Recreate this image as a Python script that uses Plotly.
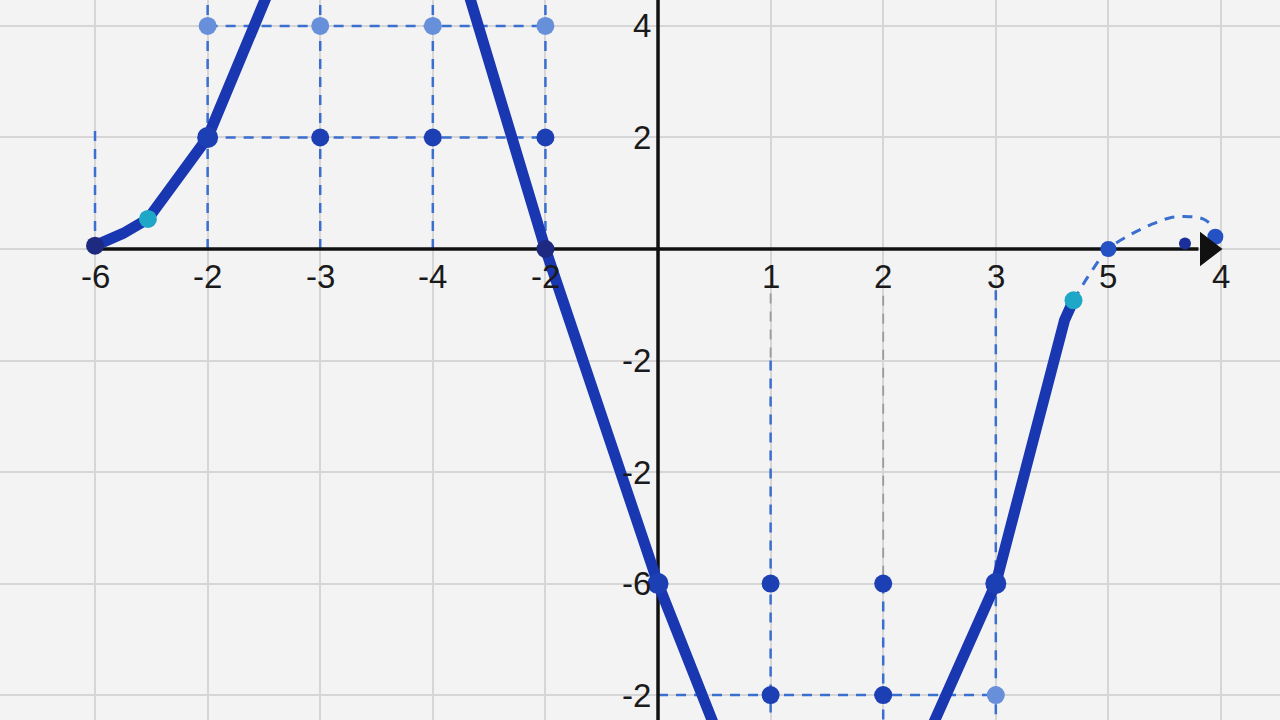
import plotly.graph_objects as go

# ---- data ----
curve_x = [-5.0, -4.75, -4.53, -4.0, -2.43, -1.0, 0.0, 1.41, 3.0, 3.61, 3.69]
curve_y = [0.03, 0.14, 0.27, 1.0, 4.8, 0.0, -3.0, -6.6, -3.0, -0.64, -0.46]

tail_x = [3.69, 3.85, 4.0, 4.19, 4.37, 4.55, 4.72, 4.84, 4.92]
tail_y = [-0.46, -0.2, 0.0, 0.126, 0.215, 0.28, 0.29, 0.27, 0.215]

upper_light_x = [-4, -3, -2, -1]
upper_light_y = [2, 2, 2, 2]
upper_dark_x = [-4, -3, -2, -1]
upper_dark_y = [1, 1, 1, 1]
lower_dark_x = [1, 2, 1, 2]
lower_dark_y = [-3, -3, -4, -4]
lower_light_x = [3]
lower_light_y = [-4]

curve_dot_x = [-4.0, 0.0, 3.0]
curve_dot_y = [1.0, -3.0, -3.0]
navy_dot_x = [-5.0, -1.0]
navy_dot_y = [0.03, 0.0]
teal_dot_x = [-4.53, 3.69]
teal_dot_y = [0.27, -0.46]
axis_dot_x = [4.0, 4.95]
axis_dot_y = [0.0, 0.11]
small_dot_x = [4.68]
small_dot_y = [0.05]

# guide segments (x0, y0, x1, y1)
blue_guides = [
    (-5, 0, -5, 1.07),
    (-4, 0, -4, 2.3), (-3, 0, -3, 2.3), (-2, 0, -2, 2.3), (-1, 0, -1, 2.3),
    (-4, 2, -1, 2), (-4, 1, -1, 1),
    (0, -4, 3, -4),
    (1, -1.0, 1, -4.3), (2, -3.0, 2, -4.3), (3, -0.37, 3, -4.3),
]
gray_guides = [
    (1, -0.4, 1, -1.0), (2, -0.42, 2, -3.0),
]

x_tick_vals = [-5, -4, -3, -2, -1, 1, 2, 3, 4, 5]
x_tick_text = ["-6", "-2", "-3", "-4", "-2", "1", "2", "3", "5", "4"]
y_tick_vals = [2, 1, -1, -2, -3, -4]
y_tick_text = ["4", "2", "-2", "-2", "-6", "-2"]

# ---- styles ----
LINE_BLUE = "#1a37b2"
DOT_DARK = "#1c3fb4"
DOT_LIGHT = "#6890da"
DOT_TEAL = "#1ea7c6"
GUIDE_BLUE = "#3b6fcf"
GUIDE_GRAY = "#9a9a9a"
FONT = dict(family="Liberation Sans, Arial", size=33, color="#1a1a1a")

fig = go.Figure()

for (x0, y0, x1, y1) in gray_guides:
    fig.add_trace(go.Scatter(x=[x0, x1], y=[y0, y1], mode="lines",
                             line=dict(color=GUIDE_GRAY, width=1.8, dash="10px,8px"),
                             hoverinfo="skip", showlegend=False))
for (x0, y0, x1, y1) in blue_guides:
    fig.add_trace(go.Scatter(x=[x0, x1], y=[y0, y1], mode="lines",
                             line=dict(color=GUIDE_BLUE, width=2.5, dash="10px,8px"),
                             hoverinfo="skip", showlegend=False))

# dashed tail
fig.add_trace(go.Scatter(x=tail_x, y=tail_y, mode="lines",
                         line=dict(color=GUIDE_BLUE, width=3, dash="10px,8px", shape="spline"),
                         showlegend=False))

# axis lines
fig.add_trace(go.Scatter(x=[-5.03, 4.8], y=[0, 0], mode="lines",
                         line=dict(color="#111111", width=3.5), showlegend=False))
fig.add_trace(go.Scatter(x=[0, 0], y=[-4.5, 2.5], mode="lines",
                         line=dict(color="#111111", width=3.5), showlegend=False))

# main curve
fig.add_trace(go.Scatter(x=curve_x, y=curve_y, mode="lines",
                         line=dict(color=LINE_BLUE, width=11),
                         showlegend=False))

def dots(xs, ys, color, size):
    fig.add_trace(go.Scatter(x=xs, y=ys, mode="markers",
                             marker=dict(color=color, size=size, line=dict(width=0)),
                             showlegend=False))

dots(upper_light_x, upper_light_y, DOT_LIGHT, 18)
dots(upper_dark_x, upper_dark_y, DOT_DARK, 18)
dots(lower_dark_x, lower_dark_y, DOT_DARK, 18)
dots(lower_light_x, lower_light_y, DOT_LIGHT, 18)
dots(curve_dot_x, curve_dot_y, DOT_DARK, 21)
dots(navy_dot_x, navy_dot_y, "#1e2a80", 18)
dots(teal_dot_x, teal_dot_y, DOT_TEAL, 18)
dots(small_dot_x, small_dot_y, "#1a2f9a", 12)
dots(axis_dot_x, axis_dot_y, "#2452c4", 16)

# arrow head
fig.add_trace(go.Scatter(x=[4.88], y=[0], mode="markers",
                         marker=dict(symbol="triangle-right", size=30, color="#111111"),
                         showlegend=False))

annotations = []
for v, t in zip(x_tick_vals, x_tick_text):
    annotations.append(dict(x=v, y=0, text=t, showarrow=False, yshift=-28, font=FONT))
for v, t in zip(y_tick_vals, y_tick_text):
    annotations.append(dict(x=0, y=v, text=t, showarrow=False, xanchor="right", xshift=-5,
                            font=FONT))

fig.update_layout(
    width=1280, height=720,
    margin=dict(l=0, r=0, t=0, b=0),
    paper_bgcolor="#f3f3f3", plot_bgcolor="#f3f3f3",
    annotations=annotations,
    hovermode=False,
    xaxis=dict(range=[-5.844, 5.524], dtick=1, tick0=0, showgrid=True,
               gridcolor="#d6d6d6", gridwidth=1.5, zeroline=False,
               showticklabels=False, fixedrange=True),
    yaxis=dict(range=[-4.224, 2.233], dtick=1, tick0=0, showgrid=True,
               gridcolor="#d6d6d6", gridwidth=1.5, zeroline=False,
               showticklabels=False, fixedrange=True),
)

fig.write_html("out.html", config={"displayModeBar": False},
               post_script="document.body.style.margin='0';document.body.style.overflow='hidden';")
